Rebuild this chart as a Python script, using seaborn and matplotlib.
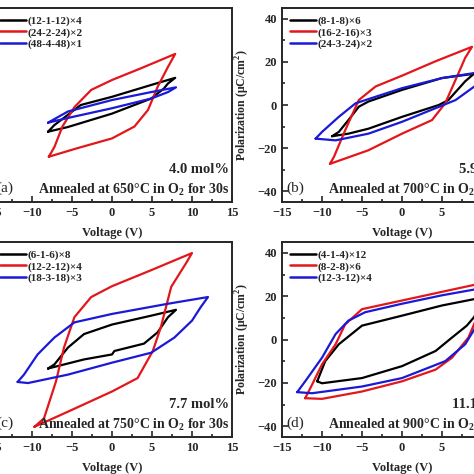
import numpy as np
import pandas as pd
import seaborn as sns
import matplotlib.pyplot as plt
from matplotlib.ticker import MultipleLocator

# loops: closed paths (left tip -> upper branch -> right tip -> lower branch -> left tip)
A_LABELS = ["(12-1-12)×4", "(24-2-24)×2", "(48-4-48)×1"]
A_V = [
    [-8, -7.2, -3.9, 0, 4.9, 7.9, 7, 6.5, 4.9, 0, -5.5, -8],
    [-7.9, -7.2, -6.2, -4.7, -2.6, 0, 3.6, 7.9, 7, 5.7, 4.5, 2.8, 0, -4.3, -7.9],
    [-8, -5.5, 0, 4.9, 8, 7, 4.9, 0, -5.5, -8],
]
A_P = [
    [-12.4, -9.3, 0, 3.8, 9.3, 12.6, 10, 7.7, 3, -4, -10.2, -12.4],
    [-24, -19.5, -10, -1, 7, 11.6, 17, 23.7, 17.7, 8.4, -2.3, -10, -15.5, -20, -24],
    [-8.2, -3, 2.3, 6, 8.2, 6, 3, -1.5, -6, -8.2],
]

B_LABELS = ["(8-1-8)×6", "(16-2-16)×3", "(24-3-24)×2"]
B_V = [
    [-8.75, -7.9, -6.7, -5.4, -4.2, 0, 5, 9, 7.9, 5.8, 4.6, 0, -4.2, -6.7, -8.75],
    [-9, -8.5, -7.1, -5.4, -3.3, 0, 4.2, 8.75, 7.9, 6.7, 5.4, 3.75, 0, -4.2, -9],
    [-10.8, -10, -7.9, -5.8, 0, 5, 9, 10.5, 9.2, 6.7, 0, -4.2, -8.3, -10.8],
]
B_P = [
    [-14.5, -12.5, -7, -0.8, 1.6, 7, 12.5, 14.5, 11, 2.3, 0, -5.5, -11, -13.3, -14.5],
    [-27.3, -24, -11.7, 2.3, 8.6, 13.6, 20.3, 27, 21.9, 11.7, 0.8, -7, -13.3, -21, -27.3],
    [-15.6, -12.5, -5.5, 0.8, 7.8, 12.5, 14.8, 15, 9, 2.3, -7.8, -13.3, -16.4, -15.6],
]

C_LABELS = ["(6-1-6)×8", "(12-2-12)×4", "(18-3-18)×3"]
C_V = [
    [-8, -7.2, -5.5, -3.5, 0, 4.9, 8, 7, 5.7, 4, 0.3, 0, -3.5, -8],
    [-9.7, -8.5, -7, -6, -4.7, -2.6, 0, 4.9, 10, 9.25, 7.4, 6.1, 5.1, 3.2, 0, -5.5, -9.7],
    [-11.8, -11, -9.3, -7.2, -4.7, 0, 7, 12, 11.1, 10, 7.8, 4.9, 0, -5.5, -10.5, -11.8],
]
C_P = [
    [-13.4, -11.5, -3.7, 2.5, 6.9, 11, 13.7, 10.3, 3.3, -1.9, -5.3, -6.9, -9.2, -13.4],
    [-40.3, -36.4, -19.3, -3.7, 10.3, 19.6, 24.6, 32, 39.9, 35.2, 24.3, 5.6, -5.3, -17.8, -24, -33.3, -40.3],
    [-19.6, -16.2, -6.9, 0.9, 7.9, 11.8, 16.5, 19.6, 15, 8.7, 0.9, -6.1, -10.7, -16.2, -20.1, -19.6],
]

D_LABELS = ["(4-1-4)×12", "(8-2-8)×6", "(12-3-12)×4"]
D_V = [
    [-10.6, -9.6, -7.9, -5, 0, 5, 9.25, 10.5, 9, 8.1, 6.25, 4.2, 0, -5, -10, -10.6],
    [-12.1, -11.25, -10, -8.3, -7.1, -5, 0, 5, 9.25, 11, 9.2, 8.3, 6.25, 4.2, 0, -5, -10, -12.1],
    [-13.1, -12.1, -10, -8.3, -6.7, -4.6, 0, 5, 9.25, 11, 9.2, 7.9, 5.4, 0, -5, -11.25, -13.1],
]
D_P = [
    [-19.3, -10, -2.2, 6.4, 11, 15.7, 18.8, 20.5, 10.3, 6.4, 0.9, -5.3, -12.3, -17.8, -20.2, -19.3],
    [-27.1, -20.9, -11.5, -2.2, 7, 14, 18, 22, 25.4, 27, 8.7, 0.9, -8.4, -13.9, -19.3, -24, -27.4, -27.1],
    [-24.3, -19.3, -8.4, 2.5, 8.7, 12.6, 16.5, 20.4, 23.2, 24.5, 5.6, -2.2, -10, -17.8, -21.7, -24.8, -24.3],
]

COLORS = ["#000000", "#e3161b", "#1a1ad6"]

PANELS = [
    ("(a)", "4.0 mol%", "Annealed at 650°C in O$_\\mathbf{2}$ for 30s", A_LABELS, A_V, A_P),
    ("(b)", "5.9 mol%", "Annealed at 700°C in O$_\\mathbf{2}$ for 30s", B_LABELS, B_V, B_P),
    ("(c)", "7.7 mol%", "Annealed at 750°C in O$_\\mathbf{2}$ for 30s", C_LABELS, C_V, C_P),
    ("(d)", "11.1 mol%", "Annealed at 900°C in O$_\\mathbf{2}$ for 30s", D_LABELS, D_V, D_P),
]

sns.set_style("ticks")
plt.rcParams["font.family"] = ["Liberation Serif", "DejaVu Serif"]
plt.rcParams["font.weight"] = "bold"
plt.rcParams["axes.labelweight"] = "bold"
plt.rcParams["mathtext.fontset"] = "custom"
plt.rcParams["mathtext.rm"] = "Liberation Serif"
plt.rcParams["mathtext.bf"] = "Liberation Serif:bold"

W = 474.0
fig = plt.figure(figsize=(4.74, 4.74), dpi=100)
rects = [
    (-8 / W, 1 - 202 / W, 240 / W, 194 / W),
    (282 / W, 1 - 202 / W, 240 / W, 194 / W),
    (-8 / W, 1 - 437 / W, 240 / W, 195 / W),
    (282 / W, 1 - 437 / W, 240 / W, 195 / W),
]

for rect, (tag, mol, note, labels, vs, ps) in zip(rects, PANELS):
    ax = fig.add_axes(rect)
    rows = []
    for lab, v, p in zip(labels, vs, ps):
        for i, (x, y) in enumerate(zip(v, p)):
            rows.append({"loop": lab, "i": i, "V": x, "P": y})
    df = pd.DataFrame(rows)
    sns.lineplot(data=df, x="V", y="P", hue="loop", hue_order=labels, palette=COLORS,
                 sort=False, estimator=None, units="loop", lw=1.6, ax=ax)
    ax.set_xlim(-15, 15)
    ax.set_ylim(-45, 45)
    ax.xaxis.set_major_locator(MultipleLocator(5))
    ax.xaxis.set_minor_locator(MultipleLocator(2.5))
    ax.yaxis.set_major_locator(MultipleLocator(20))
    ax.yaxis.set_minor_locator(MultipleLocator(10))
    ax.tick_params(which="both", direction="in", labelsize=9, width=1.2)
    ax.tick_params(which="major", length=4)
    ax.tick_params(which="minor", length=2)
    for lbl in ax.get_xticklabels() + ax.get_yticklabels():
        lbl.set_fontweight("bold")
    for s in ax.spines.values():
        s.set_linewidth(1.4)
    ax.set_xlabel("Voltage (V)", fontsize=9, labelpad=6)
    ax.set_ylabel("Polarization (μC/cm$^\\mathbf{2}$)", fontsize=8.5, labelpad=4)
    leg = ax.legend(loc="upper left", frameon=False, fontsize=8, handlelength=2.4,
                    handletextpad=0.1, labelspacing=0.15, borderaxespad=0.3)
    for t in leg.get_texts():
        t.set_fontweight("bold")
    for h in leg.get_lines():
        h.set_linewidth(1.8)
    ax.text(0.988, 0.165, mol, transform=ax.transAxes, ha="right", va="center",
            fontsize=10.5, fontweight="bold")
    ax.text(0.988, 0.065, note, transform=ax.transAxes, ha="right", va="center",
            fontsize=10, fontweight="bold")
    ax.text(0.02, 0.07, tag, transform=ax.transAxes, ha="left", va="center",
            fontsize=11, fontweight="normal")

fig.savefig("out.png", dpi=100)
